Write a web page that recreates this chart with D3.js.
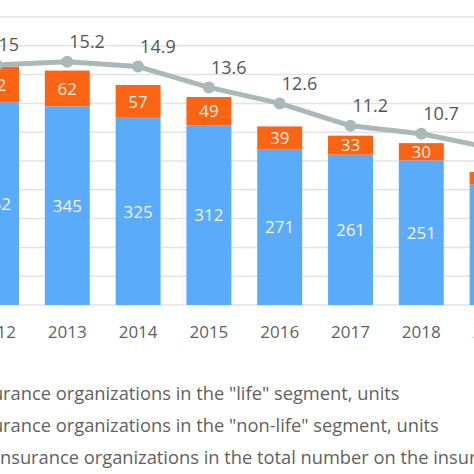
<!DOCTYPE html>
<html>
<head>
<meta charset="utf-8">
<script src="https://cdn.jsdelivr.net/npm/d3@7"></script>
<style>
  html, body { margin: 0; padding: 0; background: #fff; overflow: hidden; }
  text { font-family: "Open Sans", Lato, sans-serif; }
</style>
</head>
<body>
<div id="wrapper"></div>
<script>
/// Data ///
const years = ["2012", "2013", "2014", "2015", "2016", "2017", "2018", "2019"];
const nonLife = [352, 345, 325, 312, 271, 261, 251, 209];
const life = [62, 62, 57, 49, 39, 33, 30, 22];
const lifeShare = [15, 15.2, 14.9, 13.6, 12.6, 11.2, 10.7, 9.8];
const legendLabels = [
  'Number of insurance organizations in the "life" segment, units',
  'Number of insurance organizations in the "non-life" segment, units',
  'Share of life insurance organizations in the total number on the insurance market, %'
];
const yTicks = [0, 50, 100, 150, 200, 250, 300, 350, 400, 450, 500];

/// Dimensions ///
const width = 474;
const height = 474;
const margin = { top: 17, bottom: 169 };
const blue = '#5aacfa';
const orange = '#fa6413';
const lineColour = '#aab8b7';
const textColour = '#5f5f5f';
const fontSize = 17;

const svg = d3.select("#wrapper").append("svg")
  .attr("width", width)
  .attr("height", height)

/// Scales ///
const x = d3.scaleBand()
  .domain(years)
  .range([-38.9, 527.5])
  .paddingInner(0.365)
  .paddingOuter(0.1825)
const y = d3.scaleLinear()
  .domain([0, 500])
  .range([height - margin.bottom, margin.top])
const y2 = d3.scaleLinear()
  .domain([0, 18])
  .range([height - margin.bottom, margin.top])

/// Gridlines ///
svg.append('g')
  .selectAll('line')
  .data(yTicks)
  .join('line')
    .attr('x1', 0)
    .attr('x2', width)
    .attr('y1', d => y(d))
    .attr('y2', d => y(d))
    .attr('stroke', '#e3e3e3')
    .attr('stroke-width', 1.5)

/// Stacked bars ///
const rows = years.map((yr, i) => ({ year: yr, nonLife: nonLife[i], life: life[i], share: lifeShare[i] }));

svg.append('g')
  .selectAll('rect')
  .data(rows)
  .join('rect')
    .attr('x', d => x(d.year))
    .attr('width', x.bandwidth())
    .attr('y', d => y(d.nonLife))
    .attr('height', d => y(0) - y(d.nonLife))
    .attr('fill', blue)

svg.append('g')
  .selectAll('rect')
  .data(rows)
  .join('rect')
    .attr('x', d => x(d.year))
    .attr('width', x.bandwidth())
    .attr('y', d => y(d.nonLife + d.life))
    .attr('height', d => y(d.nonLife) - y(d.nonLife + d.life))
    .attr('fill', orange)

// labels inside the bars
const cx = d => x(d.year) + x.bandwidth() / 2;
svg.append('g')
  .selectAll('text')
  .data(rows)
  .join('text')
    .attr('x', cx)
    .attr('y', d => (y(0) + y(d.nonLife)) / 2)
    .attr('dy', '0.36em')
    .attr('text-anchor', 'middle')
    .attr('font-size', fontSize)
    .attr('fill', '#f4f4f4')
    .text(d => d.nonLife)

svg.append('g')
  .selectAll('text')
  .data(rows)
  .join('text')
    .attr('x', cx)
    .attr('y', d => (y(d.nonLife) + y(d.nonLife + d.life)) / 2)
    .attr('dy', '0.36em')
    .attr('text-anchor', 'middle')
    .attr('font-size', fontSize)
    .attr('fill', '#fbeee0')
    .text(d => d.life)

/// Share line ///
const line = d3.line()
  .x(cx)
  .y(d => y2(d.share))

svg.append('path')
  .datum(rows)
  .attr('d', line)
  .attr('fill', 'none')
  .attr('stroke', lineColour)
  .attr('stroke-width', 5)
  .attr('stroke-linejoin', 'round')

svg.append('g')
  .selectAll('circle')
  .data(rows)
  .join('circle')
    .attr('cx', cx)
    .attr('cy', d => y2(d.share))
    .attr('r', 6)
    .attr('fill', lineColour)

// value labels sit above and to the right of each point
svg.append('g')
  .selectAll('text')
  .data(rows)
  .join('text')
    .attr('x', d => cx(d) + 2)
    .attr('y', d => y2(d.share) - 20)
    .attr('dy', '0.36em')
    .attr('text-anchor', 'start')
    .attr('font-size', 18)
    .attr('fill', '#555')
    .text(d => d.share)

/// X axis ///
const xAxis = svg.append('g')
  .attr('transform', `translate(0, ${y(0)})`)
  .call(d3.axisBottom(x).tickSize(0).tickPadding(21))
xAxis.select('.domain').remove()
xAxis.selectAll('text')
  .attr('font-size', fontSize)
  .attr('font-family', '"Open Sans", sans-serif')
  .attr('fill', textColour)

/// Legend ///
// the legend is cut off on the left: place each entry so that
// the word "insurance" lands where the picture shows it
const legendSize = 18.3;
const legendTargets = [-28, -28, 0];
const legend = svg.append('g')

const legendItems = legend.selectAll('g')
  .data(legendLabels)
  .join('g')
    .attr('transform', (d, i) => `translate(0, ${393 + i * 32})`)

legendItems.append('text')
  .attr('dy', '0.36em')
  .attr('font-size', legendSize)
  .attr('fill', textColour)
  .text(d => d)
  .attr('x', function(d, i) {
    const offset = this.getSubStringLength(0, d.indexOf('nsurance'));
    return legendTargets[i] - offset;
  })
</script>
</body>
</html>
